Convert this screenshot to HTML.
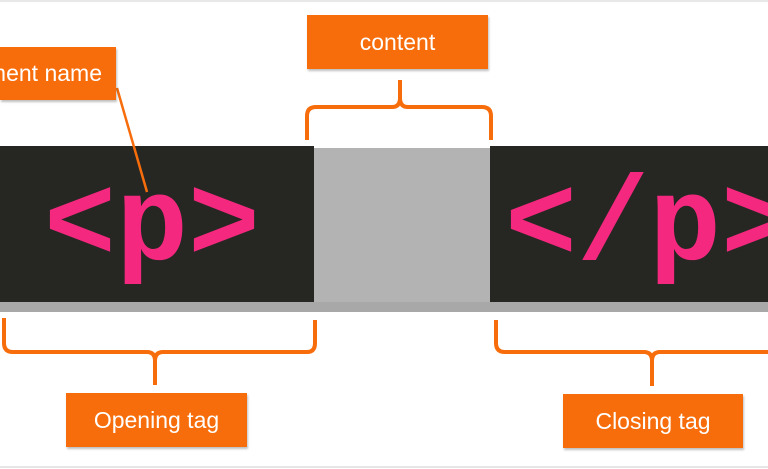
<!DOCTYPE html>
<html><head><style>
html,body{margin:0;padding:0;}
body{width:768px;height:469px;background:#fff;position:relative;overflow:hidden;font-family:"Liberation Sans",sans-serif;}
.box{position:absolute;background:#f76d0c;color:#fff;font-size:23px;display:flex;align-items:center;justify-content:center;box-shadow:1px 2px 2px rgba(0,0,0,0.25);white-space:nowrap;overflow:hidden;}
.tag{position:absolute;font-family:"Liberation Mono",monospace;font-weight:bold;color:#f5287f;font-size:120px;line-height:1;white-space:nowrap;}
</style></head><body>
<div style="position:absolute;left:0;top:0;width:768px;height:2px;background:#e8e8e8"></div>
<div style="position:absolute;left:0;top:300px;width:768px;height:12px;background:#a8a8a8"></div>
<div style="position:absolute;left:0;top:146px;width:314px;height:156px;background:#262622"></div>
<div style="position:absolute;left:314px;top:148px;width:176px;height:154px;background:#b3b3b3"></div>
<div style="position:absolute;left:490px;top:146px;width:278px;height:156px;background:#262622;overflow:hidden">
<div class="tag" style="left:15px;top:22px">&lt;/p&gt;</div>
</div>
<div class="tag" style="left:44px;top:168px">&lt;p&gt;</div>
<svg width="768" height="469" style="position:absolute;left:0;top:0" fill="none" stroke="#f76d0c" stroke-width="4">
<path d="M117 88 L147 192" stroke-width="2.5"/>
<path d="M307 140 V116 Q307 107 316 107 H392 Q400 107 400 98 V80 M400 98 Q400 107 408 107 H482 Q491 107 491 116 V140"/>
<path d="M4 318 V343 Q4 352 13 352 H147 Q155 352 155 361 V385 M155 361 Q155 352 163 352 H307 Q315 352 315 343 V320"/>
<path d="M496 320 V343 Q496 352 505 352 H644 Q652 352 652 361 V386 M652 361 Q652 352 660 352 H768"/>
</svg>
<div class="box" style="left:0;top:47px;width:116px;height:53px;justify-content:flex-end"><span style="margin-right:14px">Element name</span></div>
<div class="box" style="left:307px;top:15px;width:181px;height:54px">content</div>
<div class="box" style="left:66px;top:393px;width:181px;height:54px">Opening tag</div>
<div class="box" style="left:563px;top:394px;width:180px;height:54px">Closing tag</div>
<div style="position:absolute;left:0;top:466px;width:768px;height:2px;background:#e6e6e6"></div>
</body></html>
